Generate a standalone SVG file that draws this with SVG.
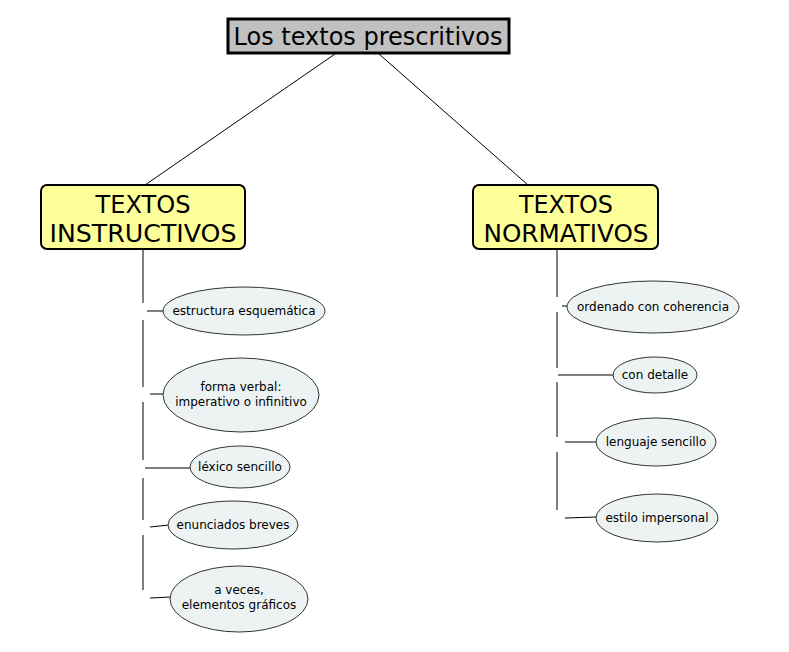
<svg xmlns="http://www.w3.org/2000/svg" width="789" height="652" viewBox="0 0 789 652">
<style>
text{font-family:"DejaVu Sans","Liberation Sans",sans-serif;fill:#000;text-anchor:middle}
.big{font-size:24px}
.sm{font-size:12px}
.c line{stroke:#000;stroke-width:1}
.e{fill:#edf3f3;stroke:#333;stroke-width:1}
.y{fill:#ffff99;stroke:#000;stroke-width:2}
</style>
<rect width="789" height="652" fill="#fff"/>
<g id="connectors" class="c">
<line x1="335" y1="54" x2="145" y2="185"/>
<line x1="379" y1="54" x2="528" y2="185"/>
<line x1="143" y1="249" x2="143" y2="303"/>
<line x1="143" y1="320" x2="143" y2="387"/>
<line x1="143" y1="402" x2="143" y2="460"/>
<line x1="143" y1="478" x2="143" y2="520"/>
<line x1="143" y1="535" x2="143" y2="590"/>
<line x1="147" y1="311" x2="164" y2="311"/>
<line x1="150" y1="394" x2="164" y2="394"/>
<line x1="145" y1="468" x2="190" y2="468"/>
<line x1="150" y1="527" x2="169" y2="525"/>
<line x1="150" y1="598" x2="171" y2="597"/>
<line x1="557" y1="249" x2="557" y2="297"/>
<line x1="557" y1="312" x2="557" y2="368"/>
<line x1="557" y1="382" x2="557" y2="437"/>
<line x1="557" y1="452" x2="557" y2="510"/>
<line x1="562" y1="306" x2="568" y2="306"/>
<line x1="558" y1="375" x2="614" y2="375"/>
<line x1="565" y1="442" x2="596" y2="442"/>
<line x1="565" y1="518" x2="596" y2="517"/>
</g>
<g id="title">
<rect x="228" y="19" width="281" height="34" fill="#c0c0c0" stroke="#000" stroke-width="3"/>
<text class="big" x="368" y="45" textLength="269" lengthAdjust="spacingAndGlyphs">Los textos prescritivos</text>
</g>
<g id="instructivos">
<rect class="y" x="41" y="185" width="204" height="64" rx="6"/>
<text class="big" x="143" y="213" textLength="95" lengthAdjust="spacingAndGlyphs">TEXTOS</text>
<text class="big" x="143" y="242" textLength="187" lengthAdjust="spacingAndGlyphs">INSTRUCTIVOS</text>
</g>
<g id="normativos">
<rect class="y" x="473" y="185" width="185" height="64" rx="6"/>
<text class="big" x="566" y="213" textLength="94" lengthAdjust="spacingAndGlyphs">TEXTOS</text>
<text class="big" x="566" y="242" textLength="165" lengthAdjust="spacingAndGlyphs">NORMATIVOS</text>
</g>
<g id="n1"><ellipse class="e" cx="244" cy="311" rx="81" ry="24"/><text class="sm" x="244" y="315">estructura esquemática</text></g>
<g id="n2"><ellipse class="e" cx="241" cy="395" rx="78" ry="37"/><text class="sm" x="241" y="391">forma verbal:</text><text class="sm" x="241" y="406">imperativo o infinitivo</text></g>
<g id="n3"><ellipse class="e" cx="240" cy="467" rx="50" ry="21"/><text class="sm" x="240" y="471">léxico sencillo</text></g>
<g id="n4"><ellipse class="e" cx="233" cy="525" rx="65" ry="24"/><text class="sm" x="233" y="529">enunciados breves</text></g>
<g id="n5"><ellipse class="e" cx="239" cy="599" rx="69" ry="33"/><text class="sm" x="239" y="594">a veces,</text><text class="sm" x="239" y="609">elementos gráficos</text></g>
<g id="n6"><ellipse class="e" cx="653" cy="307" rx="86" ry="26"/><text class="sm" x="653" y="311">ordenado con coherencia</text></g>
<g id="n7"><ellipse class="e" cx="655" cy="375" rx="42" ry="18"/><text class="sm" x="655" y="379">con detalle</text></g>
<g id="n8"><ellipse class="e" cx="656" cy="442" rx="60" ry="24"/><text class="sm" x="656" y="446">lenguaje sencillo</text></g>
<g id="n9"><ellipse class="e" cx="657" cy="518" rx="61" ry="24"/><text class="sm" x="657" y="522">estilo impersonal</text></g>
</svg>
